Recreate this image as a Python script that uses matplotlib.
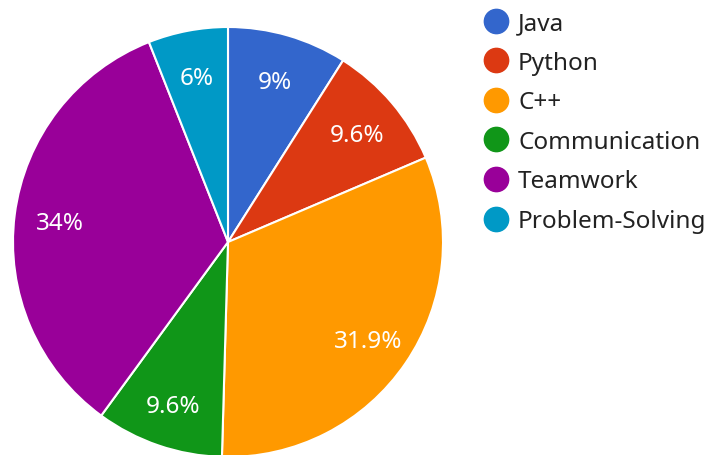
import matplotlib
matplotlib.use("Agg")
from matplotlib import pyplot as plt

plt.rcParams['font.family'] = ['Noto Sans', 'DejaVu Sans']

skills = ['Java', 'Python', 'C++', 'Communication', 'Teamwork', 'Problem-Solving']
shares = [9, 9.6, 31.9, 9.6, 34, 6]
share_labels = ['9%', '9.6%', '31.9%', '9.6%', '34%', '6%']
colors = ['#3366CC', '#DC3912', '#FF9900', '#109618', '#990099', '#0099C6']

W, H = 709, 456
fig = plt.figure(figsize=(W / 100, H / 100), dpi=100)

# pie: center ~ (228, 243) px, radius ~215 px
cx, cy, r = 228, 243, 215
ax = fig.add_axes([(cx - r) / W, (H - cy - r) / H, 2 * r / W, 2 * r / H])
wedges, texts = ax.pie(shares, colors=colors, startangle=90, counterclock=False,
                       labels=share_labels, labeldistance=0.79,
                       wedgeprops=dict(edgecolor='white', linewidth=1.5),
                       textprops=dict(color='white', fontsize=17.5, ha='center',
                                      va='center_baseline'))
ax.set_xlim(-1, 1)
ax.set_ylim(-1, 1)
ax.set_aspect('equal')
ax.axis('off')

# legend drawn in pixel coordinates
lax = fig.add_axes([0, 0, 1, 1])
lax.set_xlim(0, W)
lax.set_ylim(H, 0)
lax.axis('off')
for i, (name, c) in enumerate(zip(skills, colors)):
    y = 21.5 + i * 39.6
    lax.plot(495.5, y, 'o', color=c, markersize=17.5)
    lax.text(518, y + 8.5, name, fontsize=17.5, color='#222222', va='baseline', ha='left')

fig.savefig('out.png', dpi=100)
